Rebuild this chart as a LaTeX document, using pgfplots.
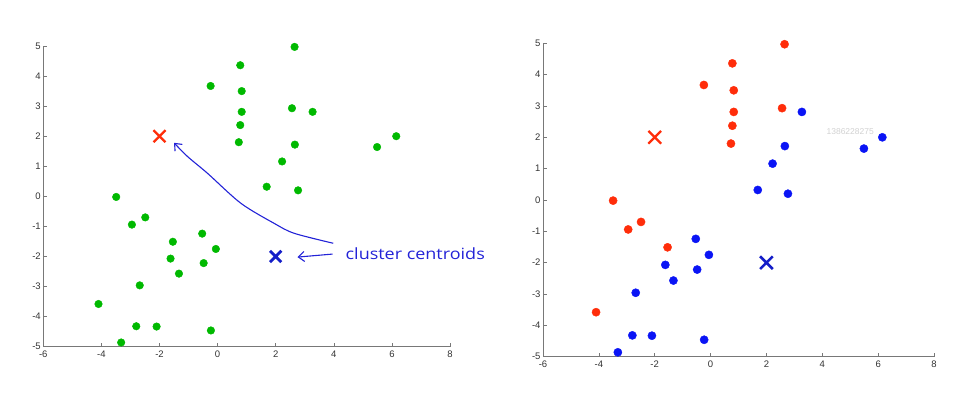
\documentclass[border=0pt]{standalone}
\usepackage{pgfplots}
\pgfplotsset{compat=1.18}
\usepackage{fontspec}
\setmainfont{Liberation Sans}
\newfontfamily\hand{Open Sans}
\usetikzlibrary{arrows.meta}
\definecolor{dotgreen}{RGB}{0,185,0}
\definecolor{dotred}{RGB}{255,45,10}
\definecolor{dotblue}{RGB}{10,20,245}
\definecolor{xblue}{RGB}{20,30,200}
\definecolor{inkblue}{RGB}{35,35,215}
\definecolor{axgray}{RGB}{120,120,120}
\pgfplotstableread{
x y
2.65 4.97
0.78 4.36
-0.24 3.67
0.83 3.50
0.83 2.81
2.56 2.93
0.78 2.37
0.73 1.80
-3.49 -0.02
-2.95 -0.94
-2.49 -0.70
-1.54 -1.51
-4.10 -3.58
}\clusterA
\pgfplotstableread{
x y
3.27 2.81
2.66 1.72
5.49 1.64
6.15 2.00
2.22 1.16
1.69 0.32
2.77 0.20
-0.53 -1.24
-0.06 -1.75
-1.62 -2.07
-0.48 -2.22
-1.33 -2.57
-2.68 -2.96
-2.80 -4.32
-2.10 -4.33
-0.23 -4.46
-3.32 -4.86
}\clusterB
\pgfplotstableread{
x y
-2 2
}\centA
\pgfplotstableread{
x y
2 -2
}\centB
\pgfplotsset{
  kmeans/.style={
    scale only axis,
    xmin=-6, xmax=8, ymin=-5, ymax=5,
    xtick={-6,-4,...,8}, ytick={-5,-4,...,5},
    axis x line*=bottom, axis y line*=left,
    axis line style={axgray, line width=0.6pt},
    tick align=inside,
    major tick length=4pt,
    tick style={axgray, line width=0.6pt},
    ticklabel style={font=\fontsize{9.5}{10}\selectfont, text=black!80},
    /pgf/number format/assume math mode=true,
    xticklabel style={yshift=-1pt},
    yticklabel style={xshift=1pt},
    clip=false,
  }
}
\begin{document}
\begin{tikzpicture}[x=1pt,y=1pt]
\path[use as bounding box] (0,0) rectangle (977,398);
% Left panel
\begin{axis}[kmeans, at={(43.3pt,51.3pt)}, anchor=south west, width=406.7pt, height=300.7pt]
\addplot[only marks, mark=*, mark size=3.8pt, color=dotgreen] table {\clusterA};
\addplot[only marks, mark=*, mark size=3.8pt, color=dotgreen] table {\clusterB};
\addplot[only marks, mark=x, mark size=8.5pt, line width=2.2pt, color=dotred] table {\centA};
\addplot[only marks, mark=x, mark size=8pt, line width=2.8pt, color=xblue] table {\centB};
\draw[inkblue, line width=1.1pt, -{Straight Barb[length=6pt,width=10pt]}]
  plot[smooth] coordinates {(axis cs:3.98,-1.56) (axis cs:2.64,-1.23) (axis cs:1.95,-0.90) (axis cs:0.80,-0.23) (axis cs:-0.34,0.76) (axis cs:-1.03,1.32) (axis cs:-1.50,1.78)};
\draw[inkblue, line width=1.1pt, -{Straight Barb[length=6pt,width=10pt]}]
  (axis cs:3.96,-1.92) -- (axis cs:2.75,-2.02);
\node[anchor=west, inner sep=0pt, text=inkblue, xscale=1.16, font=\hand\fontsize{15.5}{16}\selectfont] at (axis cs:4.40,-1.90) {cluster centroids};
\end{axis}
% Right panel
\begin{axis}[kmeans, at={(543pt,41.3pt)}, anchor=south west, width=391pt, height=313.4pt]
\addplot[only marks, mark=*, mark size=4.1pt, color=dotred] table {\clusterA};
\addplot[only marks, mark=*, mark size=4.1pt, color=dotblue] table {\clusterB};
\addplot[only marks, mark=x, mark size=9pt, line width=2.3pt, color=dotred] table {\centA};
\addplot[only marks, mark=x, mark size=9pt, line width=2.6pt, color=xblue] table {\centB};
\node[text=black!18, font=\fontsize{8.5}{9}\selectfont, inner sep=0pt] at (axis cs:5.0,2.18) {1386228275};
\end{axis}
\end{tikzpicture}
\end{document}
